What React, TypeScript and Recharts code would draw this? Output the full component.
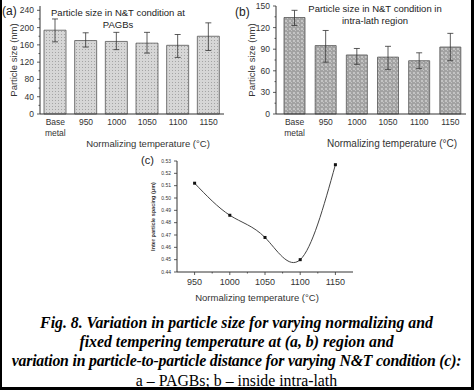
import React from 'react'
import {
  BarChart, Bar, ErrorBar, LineChart, Line, XAxis, YAxis
} from 'recharts'

// categories + values
const categories = ['Base metal', '950', '1000', '1050', '1100', '1150']
const sizeAGB = [194, 170, 168, 164, 159, 180]
const errAGB = [[27, 26], [15, 18], [19, 21], [23, 25], [28, 25], [33, 31]]
const sizeLath = [134, 95, 82, 79, 74, 93]
const errLath = [[11, 10], [23, 21], [13, 9], [17, 15], [11, 11], [19, 19]]

const temps = [950, 1000, 1050, 1100, 1150]
const spacing = [0.512, 0.486, 0.468, 0.450, 0.527]

const ticksA = [0, 20, 40, 60, 80, 100, 120, 140, 160, 180, 200, 220, 240]
const ticksB = [0, 15, 30, 45, 60, 75, 90, 105, 120, 135, 150]
const ticksCy = [0.44, 0.45, 0.46, 0.47, 0.48, 0.49, 0.50, 0.51, 0.52, 0.53]
const ticksCx = [950, 975, 1000, 1025, 1050, 1075, 1100, 1125, 1150]

const FONT = '"Liberation Sans", Arial, sans-serif'
const INK = '#333'

const dataA = categories.map((c, i) => ({ cat: c, v: sizeAGB[i], err: errAGB[i] }))
const dataB = categories.map((c, i) => ({ cat: c, v: sizeLath[i], err: errLath[i] }))
const dataC = temps.map((t, i) => ({ t, v: spacing[i] }))

// y tick with short minor marks, label only on majors
const makeYTick = (step: number, fs: number, fmt: (v: number) => string = String) => (p: any) => {
  const ax = p.x + 5
  const major = Math.abs(p.payload.value / step - Math.round(p.payload.value / step)) < 1e-6
  return (
    <g>
      <line x1={ax} x2={ax - (major ? 3 : 1.5)} y1={p.y} y2={p.y} stroke={INK} strokeWidth={0.8} />
      {major && (
        <text x={p.x - 1} y={p.y} dy="0.35em" textAnchor="end" fontSize={fs} fill={INK} fontFamily={FONT}>
          {fmt(p.payload.value)}
        </text>
      )}
    </g>
  )
}

const CatTick = (p: any) => {
  const parts = String(p.payload.value).split(' ')
  return (
    <text x={p.x} y={p.y + 9} textAnchor="middle" fontSize={8.5} fill={INK} fontFamily={FONT}>
      {parts.map((s, i) => (
        <tspan key={i} x={p.x} dy={i === 0 ? 0 : 11}>{s}</tspan>
      ))}
    </text>
  )
}

const TempTick = (p: any) => {
  const ay = p.y - 5
  const major = p.payload.value % 50 === 0
  return (
    <g>
      <line x1={p.x} x2={p.x} y1={ay} y2={ay + (major ? 3 : 1.5)} stroke={INK} strokeWidth={0.8} />
      {major && (
        <text x={p.x} y={ay + 13} textAnchor="middle" fontSize={9} fill={INK} fontFamily={FONT}>
          {p.payload.value}
        </text>
      )}
    </g>
  )
}

const SquareDot = (p: any) => (
  <rect key={p.index} x={p.cx - 1.5} y={p.cy - 1.5} width={3} height={3} fill="#111" />
)

const txt = (s: React.CSSProperties): React.CSSProperties => ({
  position: 'absolute', fontFamily: FONT, color: '#222', whiteSpace: 'nowrap', lineHeight: 1, ...s
})

export default function App() {
  return (
    <div style={{ position: 'absolute', left: 0, top: 0, width: 474, height: 390, background: '#fff', overflow: 'hidden' }}>
      {/* (a) */}
      <div style={{ position: 'absolute', left: 0, top: 0 }}>
        <BarChart width={237} height={150} data={dataA} margin={{ top: 6, right: 13, left: 0, bottom: 0 }}>
          <defs>
            <pattern id="dotsA" width="3" height="3" patternUnits="userSpaceOnUse">
              <rect width="3" height="3" fill="#d6d6d6" />
              <rect x="1" y="1" width="1" height="1" fill="#a4a4a4" />
            </pattern>
          </defs>
          <XAxis dataKey="cat" height={36} tick={<CatTick />} tickSize={0} stroke={INK} interval={0}
            label={{ value: 'Normalizing temperature (°C)', position: 'insideBottom', offset: 3, dx: 16, fontSize: 9.5, fill: INK, fontFamily: FONT }} />
          <YAxis width={40} domain={[0, 250]} ticks={ticksA} tickSize={3} tickMargin={2} tickLine={false}
            tick={makeYTick(40, 8.5)} stroke={INK} interval={0}
            label={{ value: 'Particle size (nm)', angle: -90, position: 'insideLeft', offset: 14, style: { textAnchor: 'middle' }, fontSize: 9.5, fill: INK, fontFamily: FONT }} />
          <Bar dataKey="v" fill="url(#dotsA)" stroke="#555" strokeWidth={0.8} barSize={22} isAnimationActive={false}>
            <ErrorBar dataKey="err" width={3} stroke={INK} strokeWidth={0.8} direction="y" />
          </Bar>
        </BarChart>
      </div>

      {/* (b) */}
      <div style={{ position: 'absolute', left: 237, top: 0 }}>
        <BarChart width={237} height={150} data={dataB} margin={{ top: 6, right: 8, left: 0, bottom: 0 }}>
          <defs>
            <pattern id="dotsB" width="4" height="4" patternUnits="userSpaceOnUse">
              <rect width="4" height="4" fill="#a2a2a2" />
              <rect x="0" y="0" width="2" height="2" fill="#c4c4c4" />
              <rect x="2" y="2" width="1" height="1" fill="#c4c4c4" />
            </pattern>
          </defs>
          <XAxis dataKey="cat" height={36} tick={<CatTick />} tickSize={0} stroke={INK} interval={0} padding={{ left: 3, right: 0 }}
            label={{ value: 'Normalizing temperature (°C)', position: 'insideBottom', offset: 3, dx: 21, fontSize: 10, fill: INK, fontFamily: FONT }} />
          <YAxis width={39} domain={[0, 150]} ticks={ticksB} tickSize={3} tickMargin={2} tickLine={false}
            tick={makeYTick(30, 8.5)} stroke={INK} interval={0}
            label={{ value: 'Particle size (nm)', angle: -90, position: 'insideLeft', offset: 15, style: { textAnchor: 'middle' }, fontSize: 9.5, fill: INK, fontFamily: FONT }} />
          <Bar dataKey="v" fill="url(#dotsB)" stroke="#555" strokeWidth={0.8} barSize={21} isAnimationActive={false}>
            <ErrorBar dataKey="err" width={3} stroke={INK} strokeWidth={0.8} direction="y" />
          </Bar>
        </BarChart>
      </div>

      {/* (c) */}
      <div style={{ position: 'absolute', left: 100, top: 145 }}>
        <LineChart width={260} height={160} data={dataC} margin={{ top: 16, right: 7, left: 0, bottom: 0 }}>
          <XAxis dataKey="t" type="number" domain={[925, 1175]} ticks={ticksCx} interval={0} height={33}
            tickSize={3} tickMargin={2} tickLine={false} tick={<TempTick />} stroke={INK}
            label={{ value: 'Normalizing temperature (°C)', position: 'insideBottom', offset: 4, dx: -8, fontSize: 9.5, fill: INK, fontFamily: FONT }} />
          <YAxis width={77} domain={[0.44, 0.53]} ticks={ticksCy} interval={0} tickSize={3} tickMargin={2} tickLine={false}
            tick={makeYTick(0.01, 5, v => v.toFixed(2))} stroke={INK}
            label={{ value: 'Inter particle spacing (μm)', angle: -90, position: 'insideLeft', offset: 53, style: { textAnchor: 'middle' }, fontSize: 5.5, fontWeight: 'bold', fill: INK, fontFamily: FONT }} />
          <Line type="natural" dataKey="v" stroke="#444" strokeWidth={1} dot={<SquareDot />} isAnimationActive={false} />
        </LineChart>
      </div>

      {/* panel letters and titles */}
      <div style={txt({ left: 2, top: 5, fontSize: 12 })}>(a)</div>
      <div style={txt({ left: 235, top: 6, fontSize: 12 })}>(b)</div>
      <div style={txt({ left: 141, top: 155, fontSize: 11 })}>(c)</div>
      <div style={txt({ left: 118, top: 7, fontSize: 9.5, transform: 'translateX(-50%)', textAlign: 'center', lineHeight: '12px' })}>
        Particle size in N&amp;T condition at<br />PAGBs
      </div>
      <div style={txt({ left: 375, top: 3, fontSize: 9.5, transform: 'translateX(-50%)', textAlign: 'center', lineHeight: '12px' })}>
        Particle size in N&amp;T condition in<br />intra-lath region
      </div>

      {/* caption */}
      <div style={{ position: 'absolute', left: 2, right: 3, top: 313, textAlign: 'center', fontFamily: '"Liberation Serif", "Times New Roman", serif', fontSize: 15.8, lineHeight: '19.2px', color: '#000' }}>
        <div style={{ fontWeight: 'bold', fontStyle: 'italic' }}>Fig. 8. Variation in particle size for varying normalizing and</div>
        <div style={{ fontWeight: 'bold', fontStyle: 'italic' }}>fixed tempering temperature at (a, b) region and</div>
        <div style={{ fontWeight: 'bold', fontStyle: 'italic', letterSpacing: -0.2 }}>variation in particle-to-particle distance for varying N&amp;T condition (c):</div>
        <div>a – PAGBs; b – inside intra-lath</div>
      </div>

      {/* frame */}
      <div style={{ position: 'absolute', left: 0, top: 0, width: 2, height: 390, background: '#000' }} />
      <div style={{ position: 'absolute', left: 471, top: 0, width: 3, height: 390, background: '#000' }} />
      <div style={{ position: 'absolute', left: 0, top: 387, width: 474, height: 3, background: '#000' }} />
    </div>
  )
}
